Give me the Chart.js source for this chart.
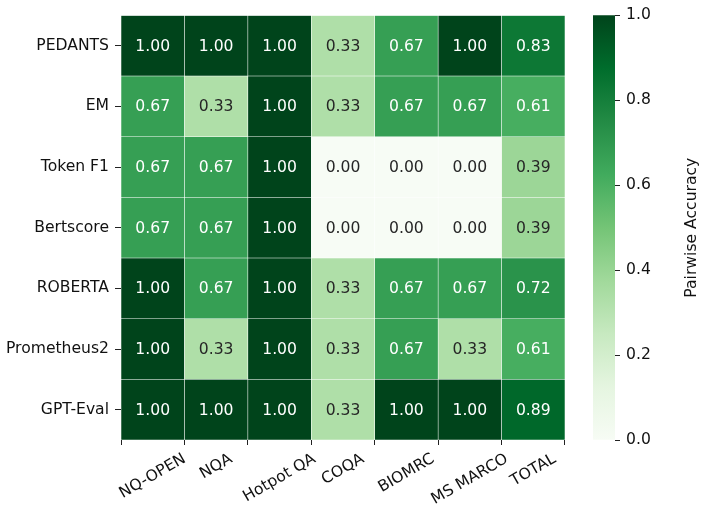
<!DOCTYPE html>
<html>
<head>
<meta charset="utf-8">
<script src="https://cdn.jsdelivr.net/npm/chart.js@4/dist/chart.umd.min.js"></script>
<style>
  body { margin: 0; background: #fff; }
  #wrap { position: relative; width: 702px; height: 510px; }
  #heat { position: absolute; left: 0; top: 0; }
  #cbar { position: absolute; left: 560px; top: 0; }
</style>
</head>
<body>
<div id="wrap">
  <canvas id="heat" width="575" height="510"></canvas>
  <canvas id="cbar" width="142" height="510"></canvas>
</div>
<script>
const columns = ['NQ-OPEN', 'NQA', 'Hotpot QA', 'COQA', 'BIOMRC', 'MS MARCO', 'TOTAL'];
const rows = ['PEDANTS', 'EM', 'Token F1', 'Bertscore', 'ROBERTA', 'Prometheus2', 'GPT-Eval'];

const pedants     = [1.00, 1.00, 1.00, 0.33, 0.67, 1.00, 0.83];
const em          = [0.67, 0.33, 1.00, 0.33, 0.67, 0.67, 0.61];
const tokenF1     = [0.67, 0.67, 1.00, 0.00, 0.00, 0.00, 0.39];
const bertscore   = [0.67, 0.67, 1.00, 0.00, 0.00, 0.00, 0.39];
const roberta     = [1.00, 0.67, 1.00, 0.33, 0.67, 0.67, 0.72];
const prometheus2 = [1.00, 0.33, 1.00, 0.33, 0.67, 0.33, 0.61];
const gptEval     = [1.00, 1.00, 1.00, 0.33, 1.00, 1.00, 0.89];
const values = [pedants, em, tokenF1, bertscore, roberta, prometheus2, gptEval];

const cbarTicks = [0, 0.2, 0.4, 0.6, 0.8, 1.0];
const cbarLabel = 'Pairwise Accuracy';

// matplotlib "Greens"
const greens = [[247,252,245],[229,245,224],[199,233,192],[161,217,155],[116,196,118],[65,171,93],[35,139,69],[0,109,44],[0,68,27]];
function cmap(v) {
  const t = Math.max(0, Math.min(1, v)) * 8;
  const i = Math.min(7, Math.floor(t));
  const f = t - i;
  const a = greens[i], b = greens[i + 1];
  return 'rgb(' + [0,1,2].map(k => Math.round(a[k] + (b[k] - a[k]) * f)).join(',') + ')';
}

const FONT = { family: 'DejaVu Sans', size: 15.6 };
const FONT_STR = '15.6px "DejaVu Sans"';

// value text in each cell
const cellText = {
  id: 'cellText',
  afterDatasetsDraw(chart) {
    const ctx = chart.ctx;
    ctx.save();
    ctx.font = FONT_STR;
    ctx.textAlign = 'center';
    ctx.textBaseline = 'middle';
    chart.data.datasets.forEach((ds, r) => {
      chart.getDatasetMeta(r).data.forEach((bar, c) => {
        const v = values[r][c];
        ctx.fillStyle = v > 0.5 ? '#ffffff' : '#262626';
        ctx.fillText(v.toFixed(2), bar.x, (bar.y + bar.base) / 2 + 1);
      });
    });
    ctx.restore();
  }
};

// rotated column labels, centred under the tick like matplotlib
const colLabels = {
  id: 'colLabels',
  afterDraw(chart) {
    const ctx = chart.ctx;
    const xs = chart.scales.x;
    const ang = Math.PI / 6;
    ctx.save();
    ctx.font = FONT_STR;
    ctx.fillStyle = '#111';
    ctx.textAlign = 'center';
    ctx.textBaseline = 'middle';
    columns.forEach((lab, i) => {
      const w = ctx.measureText(lab).width;
      const h = 15.6 * 1.16;
      const bh = w * Math.sin(ang) + h * Math.cos(ang);
      const x = xs.getPixelForValue(i);
      const y = chart.chartArea.bottom + 10 + bh / 2;
      ctx.save();
      ctx.translate(x, y);
      ctx.rotate(-ang);
      ctx.fillText(lab, 0, 0);
      ctx.restore();
    });
    ctx.restore();
  }
};

new Chart('heat', {
  type: 'bar',
  data: {
    labels: columns,
    datasets: rows.map((name, r) => ({
      label: name,
      data: values[r].map(() => [r, r + 1]),
      backgroundColor: values[r].map(cmap),
      borderColor: 'rgba(255,255,255,0.22)',
      borderWidth: 0.6,
      borderSkipped: false,
      barPercentage: 1,
      categoryPercentage: 1,
      grouped: false
    }))
  },
  options: {
    responsive: false,
    animation: false,
    layout: { padding: { top: 9, right: 10, left: 0, bottom: 0 } },
    plugins: { legend: { display: false }, tooltip: { enabled: false } },
    scales: {
      x: {
        grid: { drawOnChartArea: false, tickLength: 5, color: '#222' },
        border: { display: false },
        ticks: { display: false },
        afterFit: s => { s.height = 70; }
      },
      y: {
        type: 'linear',
        min: 0,
        max: 7,
        reverse: true,
        afterBuildTicks: s => { s.ticks = rows.map((_, i) => ({ value: i + 0.5 })); },
        grid: { drawOnChartArea: false, tickLength: 6, color: '#222' },
        border: { display: false },
        ticks: { callback: v => rows[Math.floor(v)], font: FONT, color: '#111', padding: 6, autoSkip: false },
        afterFit: s => { s.width = 121; }
      }
    }
  },
  plugins: [cellText, colLabels]
});

const cbarTitle = {
  id: 'cbarTitle',
  afterDraw(chart) {
    const ctx = chart.ctx;
    const a = chart.chartArea;
    ctx.save();
    ctx.font = FONT_STR;
    ctx.fillStyle = '#111';
    ctx.textAlign = 'center';
    ctx.textBaseline = 'middle';
    ctx.translate(132, (a.top + a.bottom) / 2);
    ctx.rotate(-Math.PI / 2);
    ctx.fillText(cbarLabel, 0, 0);
    ctx.restore();
  }
};

new Chart('cbar', {
  type: 'bar',
  data: {
    labels: [''],
    datasets: [{
      data: [[0, 1]],
      backgroundColor: c => {
        const a = c.chart.chartArea;
        if (!a) return cmap(0.5);
        const g = c.chart.ctx.createLinearGradient(0, a.bottom, 0, a.top);
        greens.forEach((col, i) => g.addColorStop(i / 8, 'rgb(' + col.join(',') + ')'));
        return g;
      },
      borderWidth: 0,
      barPercentage: 1,
      categoryPercentage: 1
    }]
  },
  options: {
    responsive: false,
    animation: false,
    layout: { padding: { top: 9, left: 33, right: 0, bottom: 70 } },
    plugins: { legend: { display: false }, tooltip: { enabled: false } },
    scales: {
      x: { display: false },
      y: {
        position: 'right',
        min: 0,
        max: 1,
        afterBuildTicks: s => { s.ticks = cbarTicks.map(v => ({ value: v })); },
        grid: { drawOnChartArea: false, tickLength: 5, color: '#222' },
        border: { display: false },
        ticks: { callback: v => v.toFixed(1), font: FONT, color: '#111', padding: 6 },
        afterFit: s => { s.width = 87; }
      }
    }
  },
  plugins: [cbarTitle]
});
</script>
</body>
</html>
